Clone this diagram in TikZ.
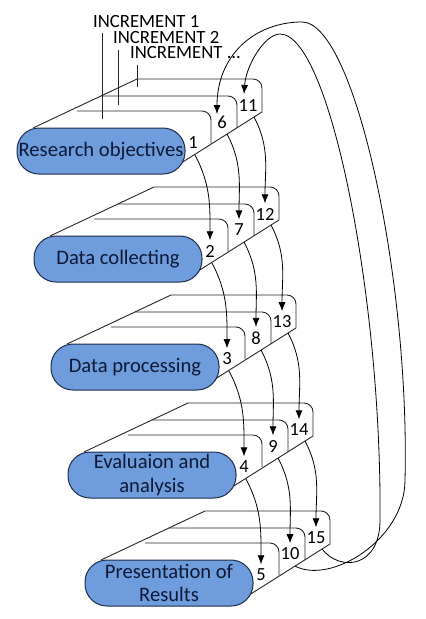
\documentclass[tikz,border=0pt]{standalone}
\usepackage{fontspec}
\setmainfont{Carlito}
\usetikzlibrary{arrows.meta}
\definecolor{pillfill}{RGB}{110,156,220}
\definecolor{pilldraw}{RGB}{30,45,75}
\definecolor{pilltext}{RGB}{15,25,55}
\begin{document}
\begin{tikzpicture}[x=1pt,y=1pt,
  line/.style={line width=0.9pt, draw=black!85},
  layer/.style={line width=0.9pt, draw=black!85, rounded corners=9pt},
  pill/.style={draw=pilldraw, line width=1pt, fill=pillfill, rounded corners=22pt,
    minimum width=168pt, minimum height=46pt, inner sep=0pt, align=center,
    text=pilltext, font=\fontsize{20.6}{23.5}\selectfont},
  num/.style={inner sep=0.5pt, font=\fontsize{18.5}{18.5}\selectfont},
  inc/.style={anchor=base west, inner sep=0pt, font=\fontsize{18.7}{20}\selectfont},
  arr/.style={line width=0.8pt, -{Latex[length=9pt,width=7pt]}},
]
\useasboundingbox (0,0) rectangle (426,-619);

% increments
\node[inc] (i1) at (93,-27) {INCREMENT 1};
\node[inc] (i2) at (113,-43) {INCREMENT 2};
\node[inc] (i3) at (130,-58) {INCREMENT ...};

\foreach \s/\txt in {0/{Research objectives},1/{Data collecting},2/{Data processing},3/{Evaluaion and\\analysis},4/{Presentation of\\Results}} {
  \pgfmathtruncatemacro\na{\s+1}
  \pgfmathtruncatemacro\nb{\s+6}
  \pgfmathtruncatemacro\nc{\s+11}
  \begin{scope}[shift={(17*\s,-108*\s)}]
    \draw[line] (33,-128) -- (137,-79);
    \draw[layer] (137,-79) -- (262,-79) -- (262,-112);
    \draw[line] (262,-112) -- (178,-165);
    \draw[layer] (101,-96) -- (237,-96) -- (237,-128);
    \draw[layer] (77,-111) -- (211,-111) -- (211,-143);
    \node[pill] (p\s) at (101,-151) {\txt};
    \node[num] (n\s-0) at (193,-143) {\na};
    \node[num] (n\s-1) at (222,-122) {\nb};
    \node[num] (n\s-2) at (248,-106) {\nc};
    \coordinate (s\s-0) at (195,-155);
    \coordinate (s\s-1) at (227,-134);
    \coordinate (s\s-2) at (254,-117);
  \end{scope}
}

\draw[line] ([xshift=9pt,yshift=-6pt]i1.base west) -- ++(0,-86);
\draw[line] ([xshift=5pt,yshift=-7pt]i2.base west) -- ++(0,-55);
\draw[line] ([xshift=7pt,yshift=-7pt]i3.base west) -- ++(0,-22);

% arrows between stages
\foreach \s [evaluate=\s as \t using int(\s+1)] in {0,...,3} {
  \foreach \l in {0,1,2} {
    \draw[arr] (s\s-\l) to[out=-62,in=90] ([yshift=4pt]n\t-\l.north);
  }
}

% big loops
\coordinate (t6) at (217,-114);
\coordinate (t11) at (244,-94);
\draw[arr] (s4-1) .. controls (330,-585) and (405,-540) .. (405,-480)
  .. controls (410,-280) and (355,-22) .. (302,-22)
  .. controls (255,-22) and (217,-55) .. (t6);
\draw[arr] (s4-2) .. controls (340,-572) and (380,-568) .. (380,-520)
  .. controls (382,-300) and (330,-34) .. (280,-34)
  .. controls (265,-34) and (246,-65) .. (t11);
\end{tikzpicture}
\end{document}
